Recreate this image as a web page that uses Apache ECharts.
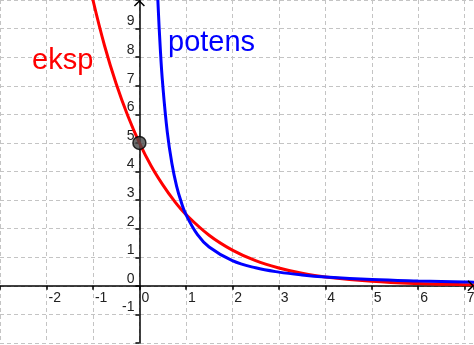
<!DOCTYPE html>
<html><head><meta charset="utf-8">
<script src="https://cdn.jsdelivr.net/npm/echarts@6/dist/echarts.min.js"></script>
<style>html,body{margin:0;padding:0;background:#fff}#c{width:474px;height:345px}</style>
</head><body><div id="c"></div>
<script>
// eksp (red) curve: points
const ekspX = [-1.2, -1, -0.75, -0.5, -0.25, 0, 0.25, 0.5, 0.75, 1, 1.5, 2, 2.5, 3, 3.5, 4, 5, 6, 7, 7.3];
const ekspY = [11.5, 10, 8.4, 7.07, 5.95, 5, 4.2, 3.54, 2.97, 2.5, 1.77, 1.25, 0.88, 0.625, 0.44, 0.31, 0.16, 0.08, 0.04, 0.03];
// potens (blue) curve
const potensX = [0.36, 0.4, 0.45, 0.5, 0.6, 0.7, 0.8, 0.9, 1, 1.25, 1.5, 2, 2.5, 3, 3.5, 4, 5, 6, 7, 7.3];
const potensY = [11.6, 9.88, 8.28, 7.07, 5.38, 4.27, 3.49, 2.93, 2.5, 1.79, 1.36, 0.88, 0.63, 0.48, 0.38, 0.31, 0.22, 0.17, 0.135, 0.127];
// marked point
const pointX = [0];
const pointY = [5];
// tick labels shown
const xTickLabels = [-2, -1, 0, 1, 2, 3, 4, 5, 6, 7];
const yTickLabels = [-1, 0, 1, 2, 3, 4, 5, 6, 7, 8, 9];

const zip = (a, b) => a.map((v, i) => [v, b[i]]);
const font = '"Liberation Sans", Arial, sans-serif';
const chart = echarts.init(document.getElementById('c'));
const grid = '#c4c4c4';
const option = {
  animation: false,
  grid: { left: 0, right: 0, top: 0, bottom: 2, outerBoundsMode: 'none', containLabel: false },
  xAxis: {
    type: 'value', min: -3, max: 7.2, interval: 1, position: 'bottom', offset: 0,
    axisLine: { onZero: false, lineStyle: { color: '#000', width: 1.5 } },
    axisTick: { show: true, length: 4, lineStyle: { color: '#000', width: 1.5 } },
    splitLine: { show: true, lineStyle: { color: grid, type: [4, 3], width: 1 } },
    axisLabel: {
      color: '#222', fontSize: 14, fontFamily: font, align: 'left', margin: 5, padding: [0, 0, 0, 2],
      formatter: v => xTickLabels.includes(v) ? String(v) : ''
    }
  },
  yAxis: {
    type: 'value', min: -2, max: 10, interval: 1, position: 'left', offset: 0,
    axisLine: { onZero: false, lineStyle: { color: '#000', width: 1.5 } },
    axisTick: { show: true, length: 4, lineStyle: { color: '#000', width: 1.5 } },
    splitLine: { show: true, lineStyle: { color: grid, type: [4, 3], width: 1 } },
    axisLabel: {
      color: '#222', fontSize: 14, fontFamily: font, verticalAlign: 'bottom', margin: 5,
      formatter: v => yTickLabels.includes(v) ? String(v) : ''
    }
  },
  series: [
    { type: 'line', data: zip(ekspX, ekspY), smooth: 0.4, symbol: 'none', lineStyle: { color: '#ff0000', width: 3 }, z: 3 },
    { type: 'line', data: zip(potensX, potensY), smooth: 0.4, symbol: 'none', lineStyle: { color: '#0000ff', width: 3 }, z: 4 },
    { type: 'scatter', data: zip(pointX, pointY), symbolSize: 13, itemStyle: { color: '#474747', borderColor: '#000', borderWidth: 1.5 }, z: 5 }
  ],
  graphic: [
    { type: 'text', left: 32, top: 46, style: { text: 'eksp', fill: '#ff0000', font: '29px ' + font } },
    { type: 'text', left: 168, top: 28, style: { text: 'potens', fill: '#0000ff', font: '29px ' + font } }
  ]
};
chart.setOption(option);
// move the axes (with their labels) onto the zero lines
const leftPx = chart.convertToPixel({ xAxisIndex: 0 }, -3);
const rightPx = chart.convertToPixel({ xAxisIndex: 0 }, 7.2);
const zeroXPx = chart.convertToPixel({ xAxisIndex: 0 }, 0);
const bottomPx = chart.convertToPixel({ yAxisIndex: 0 }, -2);
const topPx = chart.convertToPixel({ yAxisIndex: 0 }, 10);
const zeroYPx = chart.convertToPixel({ yAxisIndex: 0 }, 0);
const arrowStyle = { stroke: '#000', lineWidth: 1.5, fill: null };
chart.setOption({
  xAxis: { offset: -(bottomPx - zeroYPx) },
  yAxis: { offset: -(zeroXPx - leftPx) },
  graphic: [
    { type: 'text', left: 32, top: 46, style: { text: 'eksp', fill: '#ff0000', font: '29px ' + font } },
    { type: 'text', left: 168, top: 28, style: { text: 'potens', fill: '#0000ff', font: '29px ' + font } },
    { type: 'polyline', z: 10, shape: { points: [[zeroXPx - 5, topPx + 6], [zeroXPx, topPx + 1], [zeroXPx + 5, topPx + 6]] }, style: arrowStyle },
    { type: 'polyline', z: 10, shape: { points: [[rightPx - 6, zeroYPx - 5], [rightPx - 1, zeroYPx], [rightPx - 6, zeroYPx + 5]] }, style: arrowStyle }
  ]
}, { replaceMerge: ['graphic'] });
</script></body></html>
